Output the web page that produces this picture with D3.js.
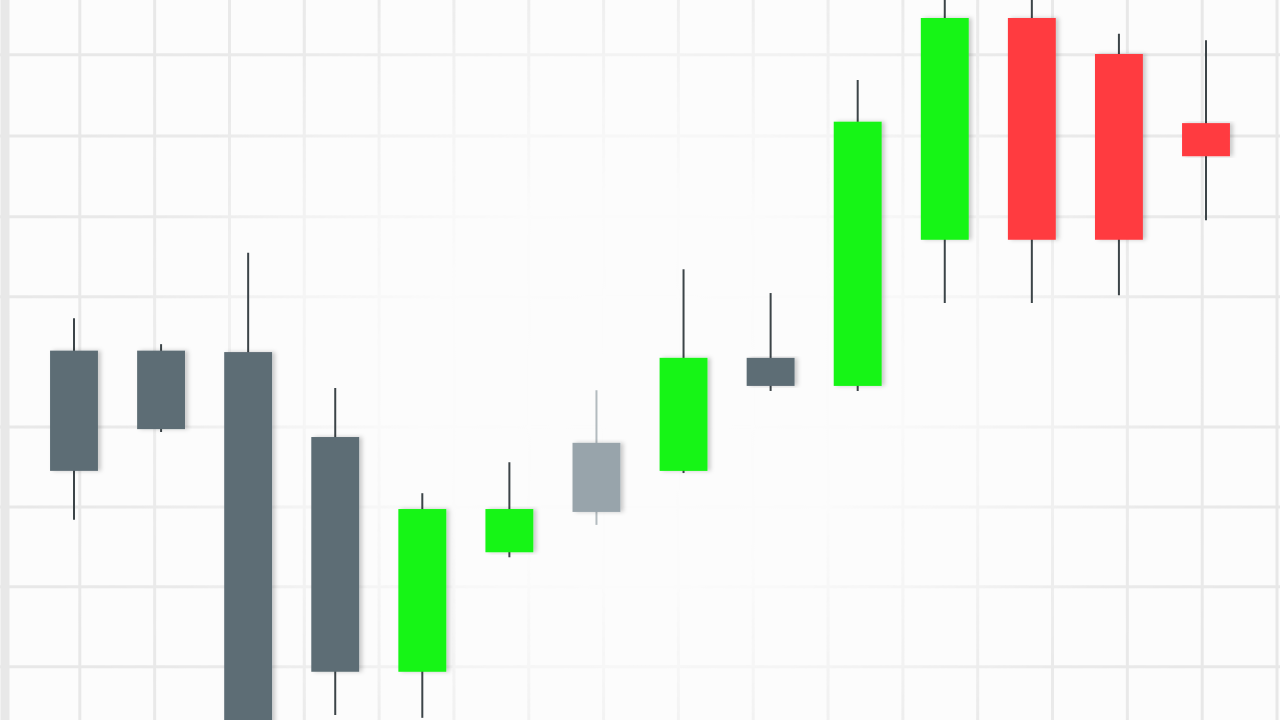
<!DOCTYPE html>
<html>
<head>
<meta charset="utf-8">
<script src="https://cdn.jsdelivr.net/npm/d3@7"></script>
<style>
  html, body { margin: 0; padding: 0; background: #fbfbfb; overflow: hidden; }
  svg { display: block; }
</style>
</head>
<body>
<script>
// ---- data (price units, arbitrary scale 0..100) ----
const sessions = d3.range(14);
const opens  = [51.3, 51.3, 51.1, 39.3,  6.7, 23.3, 28.9, 34.6, 50.3, 46.4, 66.7, 97.5, 92.5, 82.9];
const highs  = [55.8, 52.2, 64.9, 46.1, 31.5, 35.8, 45.8, 62.6, 59.3, 88.9, 101.4, 101.4, 95.3, 94.4];
const lows   = [27.8, 40.0, -5.0,  0.7,  0.3, 22.6, 27.1, 34.3, 45.7, 45.7, 57.9, 57.9, 59.0, 69.4];
const closes = [34.6, 40.4, -2.8,  6.7, 29.3, 29.3, 38.5, 50.3, 46.4, 83.1, 97.5, 66.7, 66.7, 78.3];
const kinds  = ["past","past","past","past","up","up","pending","up","past","up","up","down","down","down"];
// horizontal grid levels (price units) and vertical grid columns
const gridLevels = [92.4, 81.1, 69.9, 58.8, 40.7, 29.6, 18.5, 7.4];
const gridColumns = d3.range(18);

const W = 1280, H = 720;
const colors = { past: "#5d6d75", pending: "#98a4ab", up: "#14f514", down: "#ff3a3f" };
const wickColors = { past: "#3c4448", pending: "#b3bbbf", up: "#3c4448", down: "#3c4448" };

const svg = d3.select("body").append("svg").attr("width", W).attr("height", H);
const defs = svg.append("defs");

// fade mask for grid (center washed out)
const rg = defs.append("radialGradient").attr("id", "fade")
  .attr("gradientUnits", "userSpaceOnUse")
  .attr("cx", 640).attr("cy", 390).attr("r", 560)
  .attr("gradientTransform", "translate(640,390) scale(1.15,1) translate(-640,-390)");
rg.append("stop").attr("offset", "0%").attr("stop-color", "#fff").attr("stop-opacity", 0.0);
rg.append("stop").attr("offset", "35%").attr("stop-color", "#fff").attr("stop-opacity", 0.04);
rg.append("stop").attr("offset", "60%").attr("stop-color", "#fff").attr("stop-opacity", 0.45);
rg.append("stop").attr("offset", "80%").attr("stop-color", "#fff").attr("stop-opacity", 0.9);
rg.append("stop").attr("offset", "100%").attr("stop-color", "#fff").attr("stop-opacity", 1);
defs.append("mask").attr("id", "gridMask")
  .append("rect").attr("width", W).attr("height", H).attr("fill", "url(#fade)");

const sh = defs.append("filter").attr("id", "shadow")
  .attr("x", "-20%").attr("y", "-5%").attr("width", "150%").attr("height", "110%");
sh.append("feDropShadow").attr("dx", 3).attr("dy", 0).attr("stdDeviation", 2)
  .attr("flood-color", "#000").attr("flood-opacity", 0.2);

svg.append("rect").attr("width", W).attr("height", H).attr("fill", "#fcfcfc");

// scales
const x = d3.scaleLinear().domain([0, 13]).range([74, 1206]);
const step = x(1) - x(0);
const bodyW = step * 0.55;
const y = d3.scaleLinear().domain([0, 100]).range([H, 0]);
const gx = d3.scaleLinear().domain([0, 17]).range([5, 1277]);

// grid
const grid = svg.append("g").attr("mask", "url(#gridMask)");
grid.selectAll("line.h").data(gridLevels).join("line")
  .attr("x1", 0).attr("x2", W)
  .attr("y1", d => y(d)).attr("y2", d => y(d))
  .attr("stroke", "#e8e8e8").attr("stroke-width", 3);
grid.selectAll("line.v").data(gridColumns).join("line")
  .attr("y1", 0).attr("y2", H)
  .attr("x1", d => gx(d)).attr("x2", d => gx(d))
  .attr("stroke", "#e8e8e8").attr("stroke-width", d => d === 0 ? 9 : 3);

// candles
const candles = sessions.map(i => ({
  i, o: opens[i], h: highs[i], l: lows[i], c: closes[i], k: kinds[i]
}));

const g = svg.append("g");
g.selectAll("line.wick").data(candles).join("line")
  .attr("class", "wick")
  .attr("x1", d => x(d.i)).attr("x2", d => x(d.i))
  .attr("y1", d => y(d.h)).attr("y2", d => y(d.l))
  .attr("stroke", d => wickColors[d.k]).attr("stroke-width", 2);

g.selectAll("rect.body").data(candles).join("rect")
  .attr("class", "body")
  .attr("x", d => x(d.i) - bodyW / 2)
  .attr("width", bodyW)
  .attr("y", d => y(Math.max(d.o, d.c)))
  .attr("height", d => Math.max(1, Math.abs(y(d.o) - y(d.c))))
  .attr("fill", d => colors[d.k])
  .attr("filter", "url(#shadow)");
</script>
</body>
</html>
